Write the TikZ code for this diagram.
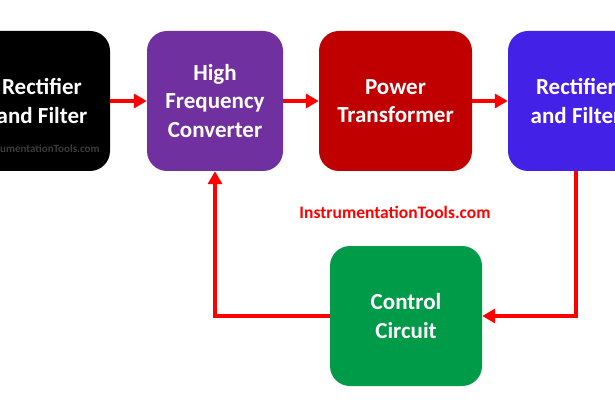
\documentclass[tikz,border=0pt]{standalone}
\usepackage{fontspec}
\setmainfont{Carlito}
\usetikzlibrary{arrows.meta,positioning}
\definecolor{blkbox}{HTML}{000000}
\definecolor{hfpurple}{HTML}{7030A0}
\definecolor{trred}{HTML}{C00000}
\definecolor{rfblue}{HTML}{4321E6}
\definecolor{ccgreen}{HTML}{009B48}
\definecolor{wire}{HTML}{FF0000}
\definecolor{wmgray}{HTML}{3C3C3C}
\tikzset{
  blockbox/.style={rounded corners=20pt, minimum height=140pt, inner sep=4pt,
                   align=center, text=white, font=\fontsize{23}{28.5}\selectfont\bfseries},
  arr/.style={-{Triangle[length=13pt,width=14pt]}, line width=4pt, color=wire},
  wmark/.style={font=\fontsize{11}{13}\selectfont\bfseries, text=wmgray}}
\begin{document}
\begin{tikzpicture}[x=1pt,y=1pt]
  \useasboundingbox (0,0) rectangle (615,410);
  \clip (0,0) rectangle (615,410);
  \fill[white] (0,0) rectangle (615,410);
  % top row
  \node[blockbox, fill=blkbox, minimum width=136pt] (rf1) at (42,309) {Rectifier\\and Filter};
  \node[blockbox, fill=hfpurple, minimum width=136pt] (hfc) at (215,309) {High\\Frequency\\Converter};
  \node[blockbox, fill=trred, minimum width=153pt] (ptr) at (395.5,309) {Power\\Transformer};
  \node[blockbox, fill=rfblue, minimum width=136pt] (rf2) at (576,309) {Rectifier\\and Filter};
  \node[wmark, anchor=east] (wm) at (103,261) {InstrumentationTools.com};
  % feedback
  \node[blockbox, fill=ccgreen, minimum width=152pt] (ctl) at (406,94) {Control\\Circuit};
  \node[font=\fontsize{17.5}{20}\selectfont\bfseries, text=wire] (site) at (395,198) {InstrumentationTools.com};
  \draw[arr] (rf1) -- (hfc);
  \draw[arr] (hfc) -- (ptr);
  \draw[arr] (ptr) -- (rf2);
  \draw[arr] (rf2.south) |- (ctl.east);
  \draw[arr] (ctl.west) -| (hfc.south);
\end{tikzpicture}
\end{document}
